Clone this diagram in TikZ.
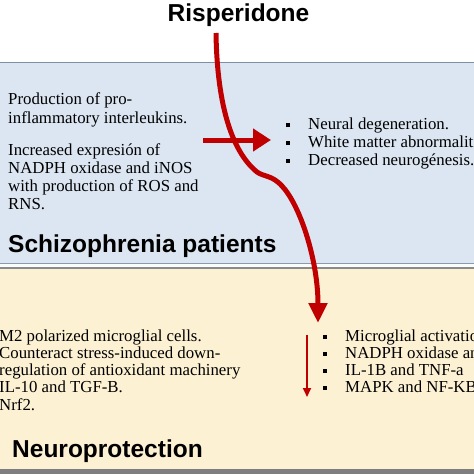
\documentclass[tikz,border=0pt]{standalone}
\usepackage{fontspec}
\setmainfont{Liberation Serif}
\newfontfamily\headfont{Liberation Sans}
\usetikzlibrary{arrows.meta}
\definecolor{bluebg}{HTML}{DCE6F2}
\definecolor{yellowbg}{HTML}{FDF1D3}
\definecolor{arrowred}{HTML}{C00000}
\definecolor{topline}{HTML}{7F8FA2}
\definecolor{bandA}{HTML}{8C9BAA}
\definecolor{bandB}{HTML}{8A8A8A}
\definecolor{bottomband}{HTML}{7E7E7E}
\newcommand\sqbul{\makebox[22pt][l]{\raisebox{2pt}{\rule{4pt}{4pt}}}}
\begin{document}
\begin{tikzpicture}[x=1pt,y=-1pt,
  head/.style={font=\headfont\bfseries\fontsize{24.5}{28}\selectfont, inner sep=0pt},
  body/.style={font=\fontsize{16.8}{17.7}\selectfont, inner sep=0pt, align=left, anchor=base west},
  bigarrow/.style={draw=arrowred, line width=5pt, -{Triangle[length=20pt,width=18pt]}},
  midarrow/.style={draw=arrowred, line width=5pt, -{Triangle[length=18pt,width=22pt]}},
  thinarrow/.style={draw=arrowred, line width=2pt, -{Triangle[length=9pt,width=8pt]}}]
\useasboundingbox (0,0) rectangle (474,474);
\clip (0,0) rectangle (474,474);
% backgrounds
\fill[white] (0,0) rectangle (474,62);
\fill[bluebg] (0,62) rectangle (474,263);
\fill[yellowbg] (0,268) rectangle (474,469);
\fill[white!90!bluebg] (0,263) rectangle (474,268);
\draw[topline, line width=1.3pt] (0,62.5) -- (474,62.5);
\draw[bandA, line width=1.8pt] (0,263.5) -- (474,263.5);
\draw[bandB, line width=2pt] (0,267.5) -- (474,267.5);
\fill[bottomband] (0,469) rectangle (474,474);
% titles
\node[head, anchor=base] (risp) at (238.5,21) {Risperidone};
\node[head, anchor=base west] (schiz) at (8,252) {Schizophrenia patients};
\node[head, anchor=base west] (neuro) at (12,457) {Neuroprotection};
% texts (anchor = baseline of the last line)
\node[body, font=\fontsize{16.8}{19}\selectfont] (t1) at (8,123) {Production of pro-\\inflammatory interleukins.};
\node[body] (t2) at (8,209) {Increased expresión of\\NADPH oxidase and iNOS\\with production of ROS and\\RNS.};
\node[body, font=\fontsize{16.8}{18}\selectfont] (t3) at (286,165) {\sqbul Neural degeneration.\\\sqbul White matter abnormalities.\\\sqbul Decreased neurogénesis.};
\node[body, font=\fontsize{16.8}{17.2}\selectfont] (t4) at (-1,410) {M2 polarized microglial cells.\\Counteract stress-induced down-\\regulation of antioxidant machinery\\IL-10 and TGF-B.\\Nrf2.};
\node[body, font=\fontsize{16.8}{17}\selectfont] (t5) at (323,392) {\sqbul Microglial activation\\\sqbul NADPH oxidase and iNOS\\\sqbul IL-1B and TNF-a\\\sqbul MAPK and NF-KB};
% arrows
\coordinate (c0) at (216,33);
\coordinate (c1) at (257,172);
\coordinate (c2) at (282,186);
\coordinate (c3) at (318,323);
\coordinate (h0) at (203,140);
\coordinate (h1) at (271,140);
\coordinate (s0) at (307,335);
\coordinate (s1) at (307,397);
\draw[midarrow] (h0) -- (h1);
\draw[bigarrow] (c0) .. controls (217,100) and (230,150) .. (c1)
   .. controls (264,177) and (272,175) .. (c2)
   .. controls (300,205) and (318,260) .. (c3);
\draw[thinarrow] (s0) -- (s1);
\end{tikzpicture}
\end{document}
